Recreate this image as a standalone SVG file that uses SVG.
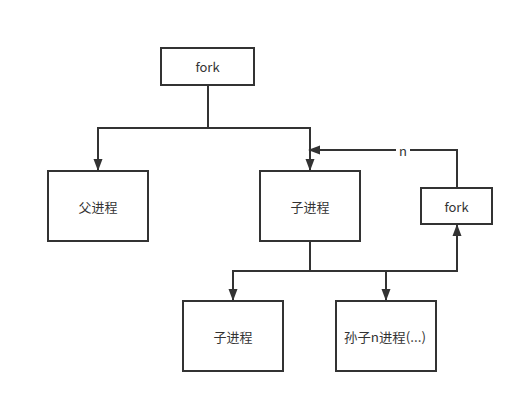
<svg xmlns="http://www.w3.org/2000/svg" width="524" height="403" viewBox="0 0 524 403">
<style>
.box{fill:#fff;stroke:#333;stroke-width:2}
.ln{fill:none;stroke:#333;stroke-width:2}
.t{font-family:"Noto Sans CJK SC","Noto Sans",sans-serif;font-size:13px;fill:#333;text-anchor:middle;dominant-baseline:central}
</style>
<defs>
<marker id="arr" viewBox="0 0 12 10" refX="11" refY="5" markerWidth="12" markerHeight="10" markerUnits="userSpaceOnUse" orient="auto">
<path d="M0,0.5 L12,5 L0,9.5 Z" fill="#333"/>
</marker>
</defs>
<rect width="524" height="403" fill="#fff"/>
<g id="connectors">
<path class="ln" d="M208,85 V128 H98 V170" marker-end="url(#arr)"/>
<path class="ln" d="M208,128 H310 V170" marker-end="url(#arr)"/>
<path class="ln" d="M457,188 V150 H309" marker-end="url(#arr)"/>
<rect x="396" y="143" width="14" height="14" fill="#fff"/>
<text class="t" x="403" y="150">n</text>
<path class="ln" d="M310,241 V271 H233 V300" marker-end="url(#arr)"/>
<path class="ln" d="M310,271 H386 V300" marker-end="url(#arr)"/>
<path class="ln" d="M386,271 H457 V225" marker-end="url(#arr)"/>
</g>
<g id="node-fork-top">
<rect class="box" x="161" y="48" width="93" height="37"/>
<text class="t" x="207.5" y="66.5">fork</text>
</g>
<g id="node-parent">
<rect class="box" x="48" y="171" width="100" height="70"/>
<text class="t" x="98" y="206">父进程</text>
</g>
<g id="node-child">
<rect class="box" x="260" y="171" width="100" height="70"/>
<text class="t" x="310" y="206">子进程</text>
</g>
<g id="node-fork-small">
<rect class="box" x="421" y="188" width="71" height="36"/>
<text class="t" x="456.5" y="206">fork</text>
</g>
<g id="node-child2">
<rect class="box" x="183" y="301" width="100" height="70"/>
<text class="t" x="233" y="336">子进程</text>
</g>
<g id="node-grandchild">
<rect class="box" x="336" y="301" width="100" height="70"/>
<text class="t" x="385" y="336" textLength="82" lengthAdjust="spacingAndGlyphs">孙子n进程(...)</text>
</g>
</svg>
